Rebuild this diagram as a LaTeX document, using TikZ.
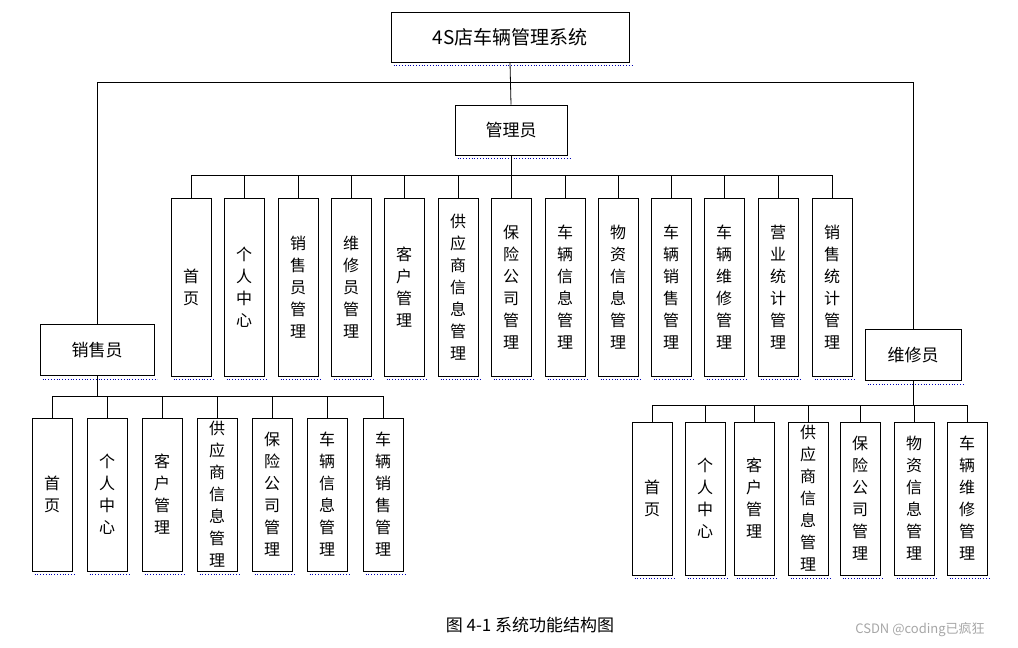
\documentclass[tikz,border=0pt]{standalone}
\usepackage{fontspec}
\newfontfamily\cjk{Noto Sans CJK SC}
\begin{document}
\begin{tikzpicture}[x=1pt,y=-1pt,
  box/.style={draw,line width=0.8pt,font=\cjk\fontsize{17}{22}\selectfont,inner sep=0pt,
    append after command={\pgfextra{\draw[blue!70!black,dotted,line width=0.8pt]
      ([shift={(3pt,-3pt)}]\tikzlastnode.south west) -- ([shift={(3pt,-3pt)}]\tikzlastnode.south east);}}},
  vb/.style={box,minimum width=40pt,align=center,font=\cjk\fontsize{16}{22}\selectfont},
  ln/.style={line width=0.8pt}]
\useasboundingbox (0,0) rectangle (1018,648);
\node[box,minimum width=238pt,minimum height=50pt,font=\cjk\fontsize{19}{22}\selectfont] (top) at (510,37) {4S店车辆管理系统};
\node[box,minimum width=112pt,minimum height=50pt] (adm) at (511,130) {管理员};
\node[box,minimum width=114pt,minimum height=51pt] (sal) at (97,350) {销售员};
\node[box,minimum width=96pt,minimum height=51pt] (rep) at (913,355) {维修员};
\coordinate (L) at (97,82); \coordinate (R) at (913,82);
\draw[ln] (top.south) -- (adm.north);
\draw[ln] (sal.north) -- (L) -- (R) -- (rep.north);
% admin
\foreach \x/\t [count=\i] in {191/首\\页,244/个\\人\\中\\心,298/销\\售\\员\\管\\理,351/维\\修\\员\\管\\理,404/客\\户\\管\\理,458/供\\应\\商\\信\\息\\管\\理,511/保\\险\\公\\司\\管\\理,565/车\\辆\\信\\息\\管\\理,618/物\\资\\信\\息\\管\\理,671/车\\辆\\销\\售\\管\\理,724/车\\辆\\维\\修\\管\\理,778/营\\业\\统\\计\\管\\理,832/销\\售\\统\\计\\管\\理}{
  \node[vb,minimum height=178pt] (a\i) at (\x,287) {\t};
  \draw[ln] (a\i.north) -- (\x,175);
}
\draw[ln] (adm.south) -- (511,175);
\draw[ln] (191,175) -- (832,175);
% sales
\foreach \x/\t [count=\i] in {52/首\\页,107/个\\人\\中\\心,162/客\\户\\管\\理,217/供\\应\\商\\信\\息\\管\\理,272/保\\险\\公\\司\\管\\理,327/车\\辆\\信\\息\\管\\理,383/车\\辆\\销\\售\\管\\理}{
  \node[vb,minimum height=153pt] (s\i) at (\x,494.5) {\t};
  \draw[ln] (s\i.north) -- (\x,396);
}
\draw[ln] (sal.south) -- (97,396);
\draw[ln] (52,396) -- (383,396);
% repair
\foreach \x/\t [count=\i] in {652/首\\页,705/个\\人\\中\\心,754/客\\户\\管\\理,808/供\\应\\商\\信\\息\\管\\理,860/保\\险\\公\\司\\管\\理,914/物\\资\\信\\息\\管\\理,967/车\\辆\\维\\修\\管\\理}{
  \node[vb,minimum height=153pt] (r\i) at (\x,498.5) {\t};
  \draw[ln] (r\i.north) -- (\x,405);
}
\draw[ln] (rep.south) -- (913,405);
\draw[ln] (652,405) -- (967,405);
\node[font=\cjk\fontsize{17}{20}\selectfont] (cap) at (530,625) {图 4-1 系统功能结构图};
\node[font=\cjk\fontsize{13}{16}\selectfont,text=gray!70] (wm) at (920,630) {CSDN @coding已疯狂};
\end{tikzpicture}
\end{document}
